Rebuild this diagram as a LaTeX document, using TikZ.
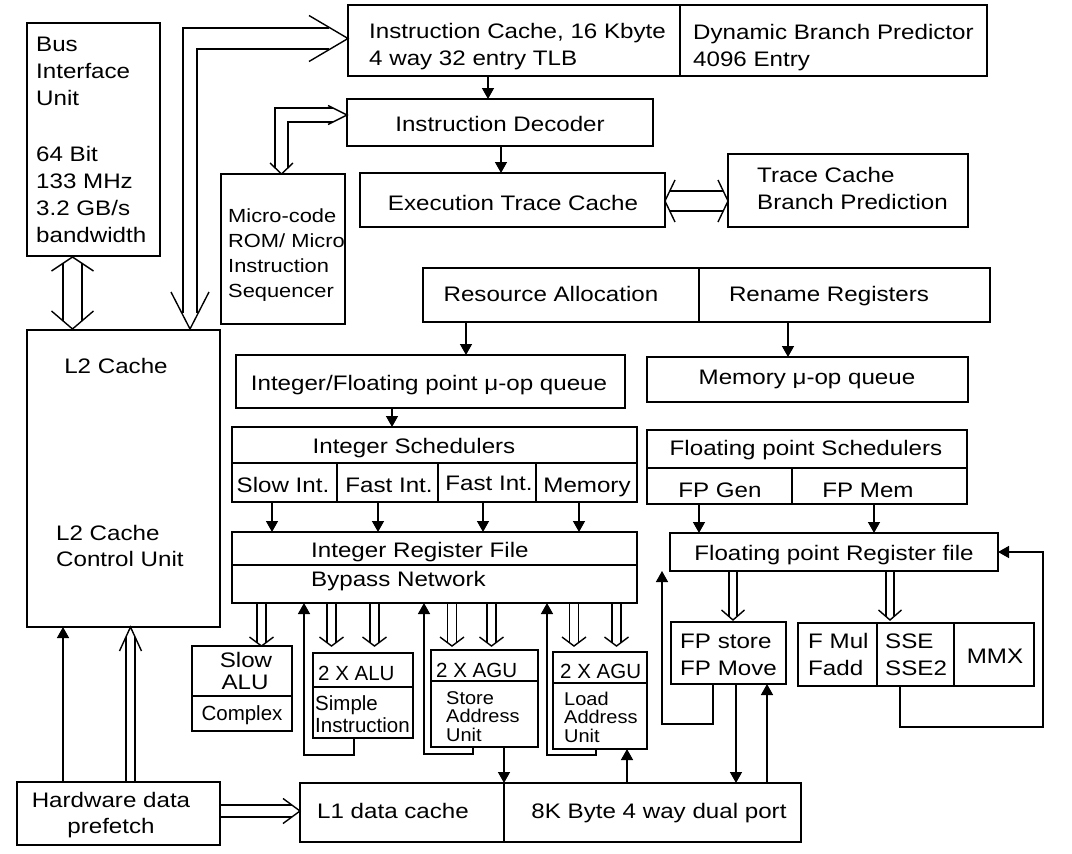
\documentclass[tikz,border=0pt]{standalone}
\usepackage{fontspec}
\setmainfont{Liberation Sans}
\newfontfamily\wideff[FakeStretch=1.15]{Liberation Sans}
\newfontfamily\midff[FakeStretch=1.08]{Liberation Sans}
\newfontfamily\plainff{Liberation Sans}
\usetikzlibrary{arrows.meta,fit}
\newcommand\mkbox[5]{\node[box,fit={(#2,#3) (#4,#5)}] (#1) {};}
% double-line helpers
\newcommand\dblV[4]{\draw[ln] ({#1-#4},#2) -- ({#1-#4},#3) ({#1+#4},#2) -- ({#1+#4},#3);}
\newcommand\dblH[4]{\draw[ln] (#2,{#1-#4}) -- (#3,{#1-#4}) (#2,{#1+#4}) -- (#3,{#1+#4});}
\newcommand\headD[4]{\draw[ln] ({#1-#4},{#2-#3}) -- (#1,#2) -- ({#1+#4},{#2-#3});}
\newcommand\headU[4]{\draw[ln] ({#1-#4},{#2+#3}) -- (#1,#2) -- ({#1+#4},{#2+#3});}
\newcommand\headR[4]{\draw[ln] ({#1-#3},{#2-#4}) -- (#1,#2) -- ({#1-#3},{#2+#4});}
\newcommand\headL[4]{\draw[ln] ({#1+#3},{#2-#4}) -- (#1,#2) -- ({#1+#3},{#2+#4});}
\begin{document}
\begin{tikzpicture}[x=1pt,y=-1pt,
  box/.style={draw,line width=1.4pt,inner sep=0pt,outer sep=0pt},
  ln/.style={line width=1.4pt},
  arr/.style={line width=1.4pt,-{Triangle[length=11pt,width=12pt]}},
  t/.style={inner sep=0pt,font=\wideff\fontsize{21}{27}\selectfont},
  tm/.style={inner sep=0pt,font=\wideff\fontsize{19}{25}\selectfont},
  ts/.style={inner sep=0pt,font=\plainff\fontsize{20.5}{20}\selectfont},
  tu/.style={inner sep=0pt,font=\midff\fontsize{18.5}{18}\selectfont}]
\fill[white] (0,0) rectangle (1072,854);
\useasboundingbox (0,0) rectangle (1072,854);

% ---------- boxes ----------
\mkbox{biu}{27}{23}{160}{256}
\mkbox{l2}{27}{330}{220}{627}
\mkbox{hw}{17}{782}{220}{845}
\mkbox{mc}{221}{174}{345}{324}
\mkbox{ic}{348}{5}{680}{76}
\mkbox{dbp}{680}{5}{987}{76}
\mkbox{id}{347}{99}{653}{146}
\mkbox{etc}{360}{173}{665}{227}
\mkbox{tcbp}{728}{154}{968}{227}
\mkbox{ra}{423}{268}{699}{322}
\mkbox{rr}{699}{268}{990}{322}
\mkbox{q1}{236}{355}{625}{408}
\mkbox{q2}{647}{357}{968}{402}
\mkbox{is}{232}{427}{637}{463}
\mkbox{s1}{232}{463}{337}{502}
\mkbox{s2}{337}{463}{438}{502}
\mkbox{s3}{438}{463}{536}{502}
\mkbox{s4}{536}{463}{637}{502}
\mkbox{irf}{232}{532}{637}{565}
\mkbox{byp}{232}{565}{637}{603}
\mkbox{fps}{647}{430}{967}{468}
\mkbox{fpg}{647}{468}{792}{504}
\mkbox{fpm}{792}{468}{967}{504}
\mkbox{fprf}{670}{533}{998}{571}
\mkbox{salu1}{192}{646}{292}{696}
\mkbox{salu2}{192}{696}{292}{731}
\mkbox{alu1}{313}{653}{413}{687}
\mkbox{alu2}{313}{687}{413}{738}
\mkbox{sagu1}{431}{650}{538}{681}
\mkbox{sagu2}{431}{681}{538}{747}
\mkbox{lagu1}{553}{652}{647}{683}
\mkbox{lagu2}{553}{683}{647}{749}
\mkbox{fpst}{671}{622}{786}{684}
\mkbox{fmul}{798}{623}{877}{686}
\mkbox{sse}{877}{623}{954}{686}
\mkbox{mmx}{954}{623}{1034}{686}
\mkbox{l1a}{300}{783}{504}{842}
\mkbox{l1b}{504}{783}{801}{842}

% ---------- texts ----------
\node[t,anchor=north west,align=left] at (36,37) {Bus\\Interface\\Unit\\[29pt]64 Bit\\133 MHz\\3.2 GB/s\\bandwidth};
\node[t,anchor=base] at (116,373) {L2 Cache};
\node[t,anchor=north west,align=left,font=\wideff\fontsize{21}{26}\selectfont] at (56,525) {L2 Cache\\Control Unit};
\node[t,anchor=north,align=center,font=\wideff\fontsize{21}{26}\selectfont] at (111,792) {Hardware data\\prefetch};
\node[tm,anchor=north west,align=left] at (228,208.5) {Micro-code\\ROM/ Micro\\Instruction\\Sequencer};
\node[t,anchor=north west,align=left] at (369,23) {Instruction Cache, 16 Kbyte\\4 way 32 entry TLB};
\node[t,anchor=north west,align=left] at (693,24) {Dynamic Branch Predictor\\4096 Entry};
\node[t,anchor=base] at (500,131) {Instruction Decoder};
\node[t,anchor=base] at (513,210) {Execution Trace Cache};
\node[t,anchor=north west,align=left] at (757,167) {Trace Cache\\Branch Prediction};
\node[t,anchor=base] at (551,301) {Resource Allocation};
\node[t,anchor=base] at (829,301) {Rename Registers};
\node[t,anchor=base] at (429,390) {Integer/Floating point μ-op queue};
\node[t,anchor=base] at (807,384) {Memory μ-op queue};
\node[t,anchor=base] at (414,453) {Integer Schedulers};
\node[t,anchor=base] at (283,492) {Slow Int.};
\node[t,anchor=base] at (389,492) {Fast Int.};
\node[t,anchor=base] at (489,490) {Fast Int.};
\node[t,anchor=base] at (587,492) {Memory};
\node[t,anchor=base west] at (311,557) {Integer Register File};
\node[t,anchor=base west] at (311,586) {Bypass Network};
\node[t,anchor=base] at (806,455) {Floating point Schedulers};
\node[t,anchor=base] at (720,497) {FP Gen};
\node[t,anchor=base] at (868,497) {FP Mem};
\node[t,anchor=base] at (834,560) {Floating point Register file};
\node[t,anchor=base] at (393,818) {L1 data cache};
\node[t,anchor=base] at (659,818) {8K Byte 4 way dual port};
\node[t,anchor=base] at (246,667) {Slow};
\node[t,anchor=base] at (245,689) {ALU};
\node[ts,anchor=base] at (242,720) {Complex};
\node[ts,anchor=base west] at (318,680) {2 X ALU};
\node[ts,anchor=base west] at (315,710) {Simple};
\node[ts,anchor=base west] at (315,732) {Instruction};
\node[ts,anchor=base west] at (436,677) {2 X AGU};
\node[tu,anchor=base west] at (446,704) {Store};
\node[tu,anchor=base west] at (446,722.5) {Address};
\node[tu,anchor=base west] at (446,741) {Unit};
\node[ts,anchor=base west] at (560,678) {2 X AGU};
\node[tu,anchor=base west] at (564,705) {Load};
\node[tu,anchor=base west] at (564,723.5) {Address};
\node[tu,anchor=base west] at (564,742) {Unit};
\node[t,anchor=base west] at (680,648) {FP store};
\node[t,anchor=base west] at (680,675) {FP Move};
\node[t,anchor=base west] at (808,648) {F Mul};
\node[t,anchor=base west] at (808,675) {Fadd};
\node[t,anchor=base west] at (885,648) {SSE};
\node[t,anchor=base west] at (885,675) {SSE2};
\node[t,anchor=base] at (995,663) {MMX};

% ---------- single arrows ----------
\draw[arr] (ic.south -| 488,0) -- (id.north -| 488,0);
\draw[arr] (id.south -| 501,0) -- (etc.north -| 501,0);
\draw[arr] (ra.south -| 466,0) -- (q1.north -| 466,0);
\draw[arr] (rr.south -| 788,0) -- (q2.north -| 788,0);
\draw[arr] (q1.south -| 392,0) -- (is.north -| 392,0);
\draw[arr] (s1.south -| 272,0) -- (irf.north -| 272,0);
\draw[arr] (s2.south -| 378,0) -- (irf.north -| 378,0);
\draw[arr] (s3.south -| 483,0) -- (irf.north -| 483,0);
\draw[arr] (s4.south -| 579,0) -- (irf.north -| 579,0);
\draw[arr] (fpg.south -| 699,0) -- (fprf.north -| 699,0);
\draw[arr] (fpm.south -| 874,0) -- (fprf.north -| 874,0);
\draw[arr] (sagu2.south -| 504,0) -- (l1a.north -| 504,0);
\draw[arr] (l1b.north -| 627,0) -- (lagu2.south -| 627,0);
\draw[arr] (fpst.south -| 736,0) -- (l1b.north -| 736,0);
\draw[arr] (l1b.north -| 767,0) -- (fpst.south -| 767,0);
\draw[arr] (hw.north -| 63,0) -- (l2.south -| 63,0);
% feedback paths
\draw[arr] (alu2.south -| 354,0) -- (354,755) -- (304,755) -- (byp.south -| 304,0);
\draw[arr] (sagu2.south -| 473,0) -- (473,754) -- (424,754) -- (byp.south -| 424,0);
\draw[arr] (lagu2.south -| 596,0) -- (596,755) -- (547,755) -- (byp.south -| 547,0);
\draw[arr] (fpst.south -| 713,0) -- (713,724) -- (662,724) -- (fprf.south -| 662,0);
\draw[arr] (sse.south -| 900,0) -- (900,727) -- (1043,727) -- (1043,552) -- (fprf.east |- 0,552);

% ---------- double-line arrows ----------
% BIU <-> L2
\dblV{72.5}{263}{321}{9.5}
\headU{72.5}{257}{14}{21}
\headD{72.5}{329}{18}{21}
% L2 <-> Instruction cache
\draw[ln] (183,313) -- (183,28) -- (329,28);
\draw[ln] (197,313) -- (197,49) -- (329,49);
\headD{190}{329}{37}{19}
\headR{348}{38.5}{39}{23}
% Micro-code <-> Instruction decoder
\draw[ln] (275,168) -- (275,108) -- (333,108);
\draw[ln] (288,168) -- (288,122) -- (333,122);
\headD{281.5}{174}{11}{11.5}
\headR{347}{115}{19}{9.5}
% ETC <-> Trace cache BP
\dblH{201}{670}{723}{10}
\headL{665}{201}{10}{21}
\headR{728}{201}{10}{21}
% HW prefetch -> L2
\dblV{130.5}{782}{637}{4.5}
\headU{130.5}{627}{24}{11}
% HW prefetch -> L1
\dblH{811}{220}{292}{6}
\headR{300}{811}{17}{12.5}
% Bypass -> execution units
\dblV{261.5}{603}{643}{4.5}\headD{261.5}{646}{9}{12}
\dblV{331.5}{603}{643}{4.5}\headD{331.5}{646}{9}{12}
\dblV{374.5}{603}{643}{4.5}\headD{374.5}{646}{9}{12}
\dblV{452}{603}{643}{4.5}\headD{452}{646}{9}{12}
\dblV{491.5}{603}{643}{4.5}\headD{491.5}{646}{9}{12}
\dblV{574}{603}{643}{4.5}\headD{574}{646}{9}{12}
\dblV{616.5}{603}{643}{4.5}\headD{616.5}{646}{9}{12}
% FP register file -> FP units
\dblV{733}{571}{616}{4}\headD{733}{620}{10}{11.5}
\dblV{890}{571}{616}{4}\headD{890}{620}{10}{11.5}
\end{tikzpicture}
\end{document}
